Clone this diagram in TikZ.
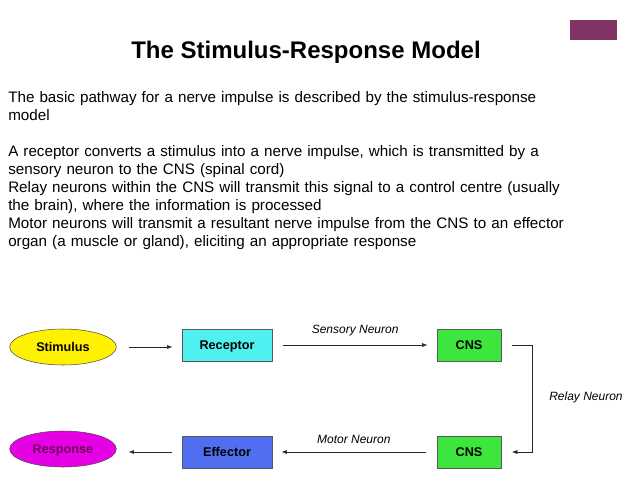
\documentclass[tikz,border=0pt]{standalone}
\usepackage{fontspec}
\setmainfont{Liberation Sans}
\usetikzlibrary{shapes.geometric,arrows.meta}
\begin{document}
\begin{tikzpicture}[x=0.75pt,y=-0.75pt,
  box/.style={draw=gray!70!black,minimum width=67.5pt,minimum height=24pt,text depth=0pt,font=\fontsize{9.5}{11}\selectfont\bfseries},
  ell/.style={ellipse,draw=gray!60!black,minimum width=80pt,minimum height=27pt,text depth=0pt,font=\fontsize{9.5}{11}\selectfont\bfseries},
  arr/.style={draw=gray!30!black,-{Latex[length=4pt,width=3pt]}},
  lbl/.style={font=\fontsize{9}{11}\selectfont\itshape}]
\useasboundingbox (0,0) rectangle (638,479);
\fill[white] (0,0) rectangle (638,479);
\fill[fill={rgb,255:red,128;green,52;blue,100}] (570,20) rectangle (617,40);
\node[font=\fontsize{18}{21}\selectfont\bfseries] (title) at (306,52) {The Stimulus-Response Model};
\node[anchor=north west,align=left,text width=423pt,font=\fontsize{11.4}{13.5}\selectfont,inner sep=0pt] (body) at (8,91) {The basic pathway for a nerve impulse is described by the stimulus-response model\\[13.5pt]
A receptor converts a stimulus into a nerve impulse, which is transmitted by a sensory neuron to the CNS (spinal cord)\\
Relay neurons within the CNS will transmit this signal to a control centre (usually the brain), where the information is processed\\
Motor neurons will transmit a resultant nerve impulse from the CNS to an effector organ (a muscle or gland), eliciting an appropriate response};
\node[ell,fill=yellow] (stim) at (63,347) {Stimulus};
\node[box,fill={rgb,255:red,80;green,240;blue,240}] (rec) at (227,345) {Receptor};
\node[box,fill={rgb,255:red,60;green,230;blue,60},minimum width=48pt] (cns1) at (469,345) {CNS};
\node[ell,fill={rgb,255:red,230;green,0;blue,230},text={rgb,255:red,110;green,0;blue,90}] (resp) at (63,449) {Response};
\node[box,fill={rgb,255:red,80;green,110;blue,240}] (eff) at (227,452) {Effector};
\node[box,fill={rgb,255:red,60;green,230;blue,60},minimum width=48pt] (cns2) at (469,452) {CNS};
\draw[arr] ([xshift=9pt]stim.east) -- ([xshift=-7pt]rec.west |- stim.east);
\draw[arr] ([xshift=8pt]rec.east) -- node[lbl,above=3pt] (sn) {Sensory Neuron} ([xshift=-7pt]cns1.west);
\coordinate (c1) at (532,345);
\coordinate (c2) at (532,452);
\draw[arr] ([xshift=8pt]cns1.east) -- (c1) -- (c2) -- ([xshift=8pt]cns2.east);
\node[lbl] (rn) at (586,397) {Relay Neuron};
\draw[arr] ([xshift=-8pt]cns2.west) -- node[lbl,above=3pt] (mn) {Motor Neuron} ([xshift=7pt]eff.east);
\draw[arr] ([xshift=-7pt]eff.west) -- ([xshift=9pt]resp.east |- eff.west);
\end{tikzpicture}
\end{document}
